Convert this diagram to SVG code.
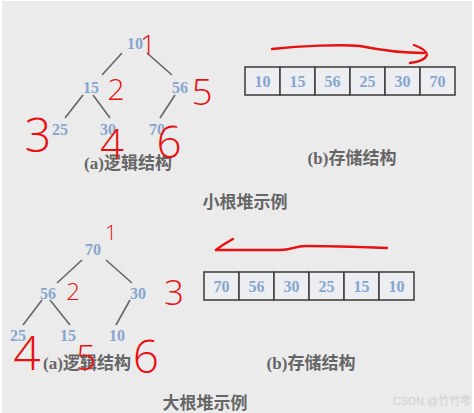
<svg xmlns="http://www.w3.org/2000/svg" width="474" height="413" viewBox="0 0 474 413">
<style>
.num{font-family:"Liberation Serif",serif;font-size:16px;font-weight:bold;fill:#86a6cf;text-anchor:middle}
.cap{font-family:"Liberation Serif","Noto Sans CJK SC",serif;font-size:17px;font-weight:bold;fill:#666;text-anchor:middle}
.hand{font-family:"Open Sans","Inter","Liberation Sans",sans-serif;font-weight:300;fill:#e81010;text-anchor:middle}
.edge{stroke:#666;stroke-width:1.6;fill:none}
.cell{fill:#eceef1;stroke:#444;stroke-width:1.6}
.red{stroke:#e81010;stroke-width:2.4;fill:none;stroke-linecap:round;stroke-linejoin:round}
</style>
<rect x="0" y="0" width="474" height="413" fill="#ffffff"/>
<rect x="2" y="1" width="470" height="412" fill="#ebebeb"/>

<g id="connectors">
  <line class="edge" x1="122" y1="53" x2="102" y2="75"/>
  <line class="edge" x1="147" y1="53" x2="172" y2="75"/>
  <line class="edge" x1="83" y1="95" x2="65" y2="118"/>
  <line class="edge" x1="93" y1="95" x2="110" y2="118"/>
  <line class="edge" x1="175" y1="95" x2="160" y2="118"/>
  <line class="edge" x1="82" y1="260" x2="57" y2="283"/>
  <line class="edge" x1="106" y1="260" x2="132" y2="283"/>
  <line class="edge" x1="42" y1="300" x2="23" y2="325"/>
  <line class="edge" x1="50" y1="300" x2="70" y2="325"/>
  <line class="edge" x1="130" y1="300" x2="116" y2="325"/>
</g>

<g id="top-tree">
  <g id="t10"><text class="num" x="135" y="49">10</text></g>
  <g id="t15"><text class="num" x="91" y="93">15</text></g>
  <g id="t56"><text class="num" x="180" y="93">56</text></g>
  <g id="t25"><text class="num" x="60" y="135">25</text></g>
  <g id="t30"><text class="num" x="108" y="135">30</text></g>
  <g id="t70"><text class="num" x="157" y="135">70</text></g>
  <text class="cap" x="128" y="169">(a)逻辑结构</text>
</g>

<g id="top-array">
  <rect class="cell" x="245" y="67" width="35" height="28"/>
  <rect class="cell" x="280" y="67" width="35" height="28"/>
  <rect class="cell" x="315" y="67" width="35" height="28"/>
  <rect class="cell" x="350" y="67" width="35" height="28"/>
  <rect class="cell" x="385" y="67" width="35" height="28"/>
  <rect class="cell" x="420" y="67" width="35" height="28"/>
  <text class="num" x="262.5" y="87">10</text>
  <text class="num" x="297.5" y="87">15</text>
  <text class="num" x="332.5" y="87">56</text>
  <text class="num" x="367.5" y="87">25</text>
  <text class="num" x="402.5" y="87">30</text>
  <text class="num" x="437.5" y="87">70</text>
  <text class="cap" x="352" y="164">(b)存储结构</text>
</g>

<text class="cap" x="245" y="208">小根堆示例</text>

<g id="bottom-tree">
  <g id="b70"><text class="num" x="93" y="255">70</text></g>
  <g id="b56"><text class="num" x="48" y="299">56</text></g>
  <g id="b30"><text class="num" x="138" y="299">30</text></g>
  <g id="b25"><text class="num" x="18" y="341">25</text></g>
  <g id="b15"><text class="num" x="68" y="341">15</text></g>
  <g id="b10"><text class="num" x="117" y="341">10</text></g>
  <text class="cap" x="87" y="369">(a)逻辑结构</text>
</g>

<g id="bottom-array">
  <rect class="cell" x="204" y="272" width="35" height="28"/>
  <rect class="cell" x="239" y="272" width="35" height="28"/>
  <rect class="cell" x="274" y="272" width="35" height="28"/>
  <rect class="cell" x="309" y="272" width="35" height="28"/>
  <rect class="cell" x="344" y="272" width="35" height="28"/>
  <rect class="cell" x="379" y="272" width="35" height="28"/>
  <text class="num" x="221.5" y="292">70</text>
  <text class="num" x="256.5" y="292">56</text>
  <text class="num" x="291.5" y="292">30</text>
  <text class="num" x="326.5" y="292">25</text>
  <text class="num" x="361.5" y="292">15</text>
  <text class="num" x="396.5" y="292">10</text>
  <text class="cap" x="311" y="369">(b)存储结构</text>
</g>

<text class="cap" x="205" y="409" font-size="16">大根堆示例</text>
<text x="432" y="405" font-family="Liberation Sans,Noto Sans CJK SC,sans-serif" font-size="11" fill="#d0d0d0" text-anchor="middle">CSDN @竹竹零</text>

<g id="annotations">
  <path class="red" d="M272,49 C300,46 340,44 360,46 C380,50 400,53 424,53"/>
  <path class="red" d="M414,45 C422,48 427,52 427,55 C425,60 418,62 410,63"/>
  <path class="red" d="M387,248 C360,247 320,246 305,246 C295,246 292,250 280,250 L216,250"/>
  <path class="red" d="M216,250 C222,245 228,242 233,239"/>
  <text class="hand" x="148" y="55" font-size="28">1</text>
  <text class="hand" x="116" y="100" font-size="30">2</text>
  <text class="hand" x="202" y="105" font-size="37">5</text>
  <text class="hand" x="38" y="152" font-size="47">3</text>
  <text class="hand" x="112" y="159" font-size="42">4</text>
  <text class="hand" x="169" y="158" font-size="44">6</text>
  <text class="hand" x="111" y="240" font-size="21">1</text>
  <text class="hand" x="73" y="300" font-size="24">2</text>
  <text class="hand" x="174" y="305" font-size="35">3</text>
  <text class="hand" x="27" y="370" font-size="48">4</text>
  <text class="hand" x="86" y="370" font-size="35">5</text>
  <text class="hand" x="146" y="373" font-size="46">6</text>
</g>
</svg>
